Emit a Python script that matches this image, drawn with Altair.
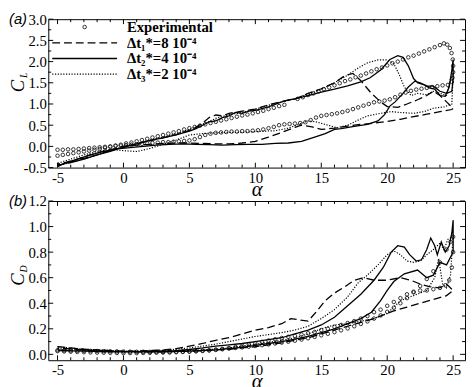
import altair as alt
import pandas as pd

SERIF = "Liberation Serif"

# ---------------- axis ticks ----------------
X_TICKS = [-5, 0, 5, 10, 15, 20, 25]
X_MINOR = [-4, -3, -2, -1, 1, 2, 3, 4, 6, 7, 8, 9, 11, 12, 13, 14, 16, 17, 18, 19, 21, 22, 23, 24]
CL_TICKS = [-0.5, 0.0, 0.5, 1.0, 1.5, 2.0, 2.5, 3.0]
CL_MINOR = [-0.25, 0.25, 0.75, 1.25, 1.75, 2.25, 2.75]
CD_TICKS = [0.0, 0.2, 0.4, 0.6, 0.8, 1.0, 1.2]
CD_MINOR = [0.1, 0.3, 0.5, 0.7, 0.9, 1.1]

LEGEND_LABELS = ["Experimental", "Δt₁*=8 10⁻⁴", "Δt₂*=4 10⁻⁴", "Δt₃*=2 10⁻⁴"]

# ---------------- (a) lift coefficient ----------------
EXP_CL_A = [-5.0, -4.6, -4.2, -3.8, -3.4, -3.0, -2.6, -2.2, -1.8, -1.4, -1.0, -0.6, -0.2, 0.2, 0.6, 1.0,
            1.4, 1.8, 2.2, 2.6, 3.0, 3.4, 3.8, 4.2, 4.6, 5.0, 5.4, 5.8, 6.2, 6.6, 7.0, 7.4, 7.8, 8.2,
            8.6, 9.0, 9.4, 9.8, 10.2, 10.6, 11.0, 11.4, 11.8, 12.2,
            13.2, 13.6, 14.0, 14.4, 14.8, 15.2, 15.6, 16.0, 16.4, 16.8, 17.2, 17.6, 18.0, 18.4, 18.8,
            19.2, 19.6, 20.0, 20.4, 20.8, 21.2, 21.6, 22.0, 22.4, 22.8, 23.2, 23.6, 24.0, 24.3,
            24.55, 24.75, 24.88, 24.97, 25.0, 25.0, 24.95, 24.9,
            24.6, 24.2, 23.8, 23.4, 23.0, 22.6, 22.2, 21.8, 21.4, 21.0, 20.6, 20.2, 19.8, 19.4, 19.0,
            18.6, 18.2, 17.8, 17.4, 17.0, 16.6, 16.2, 15.8, 15.4, 15.0, 14.6, 14.2, 13.8, 13.4, 13.0,
            12.6, 12.2, 11.8, 11.4, 11.0, 10.6, 10.2, 9.8, 9.4, 9.0, 8.6, 8.2, 7.8, 7.4, 7.0, 6.6,
            6.2, 5.8, 5.4, 5.0, 4.6, 4.2, 3.8, 3.4, 3.0, 2.6, 2.2, 1.8, 1.4, 1.0, 0.6, 0.2, -0.2,
            -0.6, -1.0, -1.4, -1.8, -2.2, -2.6, -3.0, -3.4, -3.8, -4.2, -4.6, -5.0]
EXP_CL_V = [-0.22, -0.20, -0.18, -0.16, -0.14, -0.12, -0.10, -0.08, -0.06, -0.03, -0.01, 0.02, 0.04, 0.07, 0.09, 0.12,
            0.15, 0.18, 0.21, 0.24, 0.27, 0.30, 0.33, 0.36, 0.40, 0.43, 0.46, 0.49, 0.52, 0.55, 0.58, 0.61, 0.64, 0.67,
            0.70, 0.73, 0.75, 0.78, 0.81, 0.84, 0.88, 0.91, 0.95, 0.98,
            1.12, 1.16, 1.21, 1.25, 1.30, 1.35, 1.39, 1.44, 1.49, 1.54, 1.58, 1.63, 1.67, 1.72, 1.77,
            1.82, 1.86, 1.91, 1.96, 2.00, 2.05, 2.10, 2.14, 2.19, 2.24, 2.29, 2.34, 2.39, 2.43,
            2.40, 2.32, 2.20, 2.05, 1.90, 1.75, 1.62, 1.52,
            1.45, 1.44, 1.42, 1.40, 1.38, 1.36, 1.34, 1.31, 1.27, 1.22, 1.16, 1.11, 1.08, 1.06, 1.04,
            1.00, 0.96, 0.92, 0.88, 0.84, 0.81, 0.78, 0.76, 0.74, 0.72, 0.68, 0.62, 0.57, 0.55, 0.54,
            0.53, 0.52, 0.50, 0.46, 0.43, 0.40, 0.38, 0.37, 0.36, 0.36, 0.35, 0.35, 0.34, 0.33, 0.32, 0.30,
            0.27, 0.22, 0.17, 0.14, 0.13, 0.12, 0.11, 0.10, 0.10, 0.09, 0.08, 0.07, 0.06, 0.05, 0.04, 0.03, 0.02,
            0.01, 0.00, -0.01, -0.02, -0.03, -0.04, -0.05, -0.06, -0.07, -0.07, -0.08, -0.08]

DT1_CL_A = [-5, -4, -3, -2, -1, 0, 1, 2, 3, 4, 5, 5.5, 6, 6.5, 7, 7.5, 8, 9, 10, 11, 12, 13, 14, 15, 16,
            16.8, 17.4, 18, 18.8, 19.5, 20, 20.8, 21.5, 22.3, 23, 23.5, 24, 24.5, 25,
            24.9, 24, 23, 22, 21, 20, 19, 18, 17, 16, 15, 14.3, 13.5, 13, 12, 11, 10, 9, 8, 7, 6, 5,
            4, 3, 2, 1, 0, -1, -2, -3, -4, -5]
DT1_CL_V = [-0.45, -0.37, -0.28, -0.2, -0.1, -0.02, 0.06, 0.13, 0.2, 0.28, 0.38, 0.45, 0.55, 0.68, 0.74, 0.72,
            0.78, 0.83, 0.88, 0.98, 1.06, 1.12, 1.25, 1.36, 1.5,
            1.67, 1.72, 1.55, 1.25, 1.05, 0.94, 0.92, 1.0, 1.1, 1.2, 1.3, 1.2, 1.05, 0.9,
            0.87, 0.82, 0.76, 0.7, 0.64, 0.59, 0.55, 0.52, 0.48, 0.43, 0.4, 0.46, 0.5, 0.45, 0.33, 0.22,
            0.12, 0.08, 0.06, 0.06, 0.07, 0.08, 0.08, 0.07, 0.05, 0.03, 0.0, -0.08, -0.15, -0.25, -0.35, -0.42]

DT2_CL_A = [-5, -4.5, -4, -3, -2, -1, 0, 1, 2, 3, 4, 5, 5.5, 6, 6.5, 7, 7.5, 8, 8.5, 9, 9.5, 10, 11, 12,
            12.5, 13, 14, 15, 16, 17, 18, 18.7, 19.5, 20.2, 20.8, 21.2, 21.6, 22, 22.3, 22.8, 23.2,
            23.6, 24, 24.4, 24.7, 24.9, 25, 25, 24.9,
            24.5, 24, 23.5, 23, 22.5, 22.1, 21.6, 21.2, 20.6, 20.2, 19.8, 19.3, 18.5, 17.5, 16.5, 16,
            15.3, 14.5, 13.5, 12.5, 11.5, 10.5, 9.5, 8.5, 7.5, 6.5, 5.5, 4.5, 3.5, 2.5, 1.5, 0.5,
            -0.5, -1.5, -2.5, -3.5, -4.5, -5]
DT2_CL_V = [-0.48, -0.4, -0.38, -0.3, -0.2, -0.12, -0.02, 0.06, 0.14, 0.2, 0.27, 0.36, 0.42, 0.5, 0.58, 0.6,
            0.68, 0.72, 0.8, 0.78, 0.83, 0.85, 0.93, 1.05, 1.1, 1.12, 1.2, 1.28, 1.35, 1.43, 1.52, 1.62,
            1.8, 2.05, 2.14, 2.1, 1.9, 1.6, 1.5, 1.45, 1.38, 1.35, 1.2, 1.18, 1.4, 1.8, 2.05, 1.6, 1.3,
            1.25, 1.3, 1.42, 1.43, 1.5, 1.54, 1.4, 1.25, 1.05, 0.95, 0.75, 0.6, 0.52, 0.47, 0.42, 0.4,
            0.3, 0.22, 0.12, 0.08, 0.07, 0.05, 0.05, 0.04, 0.03, 0.04, 0.05, 0.06, 0.05, 0.03, 0.0,
            -0.03, -0.06, -0.12, -0.2, -0.3, -0.4, -0.47]

DT3_CL_A = [-5, -4, -3, -2, -1, 0, 1, 2, 3, 4, 5, 6, 7, 8, 9, 10, 11, 12, 13, 14, 15, 16, 17, 17.8,
            18.5, 19.3, 20, 20.5, 20.9, 21.3, 21.8, 22.3, 23, 23.5, 24, 24.5, 24.8, 25,
            24.9, 24.3, 23.5, 22.8, 22, 21, 20.3, 19.5, 18.5, 17.8, 17, 16.2, 15.5, 14.6, 14, 13.3,
            12.5, 11.5, 10, 9, 8, 7, 6, 5, 4, 3, 2, 1, 0, -1, -2, -3, -4, -5]
DT3_CL_V = [-0.45, -0.38, -0.3, -0.2, -0.1, 0.0, 0.07, 0.15, 0.22, 0.3, 0.4, 0.52, 0.66, 0.75, 0.8, 0.88,
            0.97, 1.05, 1.12, 1.22, 1.35, 1.5, 1.68, 1.85, 1.97, 2.04, 2.04, 1.95, 1.7, 1.4, 1.2,
            1.25, 1.22, 1.3, 1.25, 1.2, 1.6, 1.7,
            1.0, 0.93, 0.9, 0.82, 0.78, 0.8, 0.82, 0.78, 0.72, 0.62, 0.5, 0.44, 0.5, 0.58, 0.6, 0.52,
            0.43, 0.37, 0.35, 0.33, 0.33, 0.32, 0.3, 0.27, 0.15, 0.05, -0.05, -0.12, -0.1, -0.07,
            -0.12, -0.2, -0.3, -0.4]

# ---------------- (b) drag coefficient ----------------
EXP_CD_A = [-5.0, -4.5, -4.0, -3.5, -3.0, -2.5, -2.0, -1.5, -1.0, -0.5, 0.0, 0.5, 1.0, 1.5, 2.0, 2.5,
            3.0, 3.5, 4.0, 4.5, 5.0, 5.5, 6.0, 6.5, 7.0, 7.5, 8.0, 8.5, 9.0, 9.5, 10.0, 10.5, 11.0,
            11.5, 12.0, 12.5, 13.0, 13.5, 14.0, 14.5, 15.0, 15.5, 16.0, 16.5, 17.0, 17.5, 18.0, 18.5,
            19.0, 19.5, 20.0, 20.5, 21.0, 21.5, 22.0, 22.5, 23.0, 23.5, 24.0, 24.5, 24.8, 25.0,
            25.0, 24.9, 24.7, 24.4, 24.0, 23.5, 23.0, 22.5, 22.0, 21.5, 21.0, 20.5, 20.0, 19.5, 19.0,
            18.5, 18.0, 17.5, 17.0, 16.5, 16.0, 15.5, 15.0, 14.5, 14.0, 13.5, 13.0, 12.5, 12.0, 11.5,
            11.0, 10.5, 10.0, 9.5, 9.0, 8.5, 8.0, 7.5, 7.0, 6.5, 6.0, 5.5, 5.0, 4.5, 4.0, 3.5, 3.0,
            2.5, 2.0, 1.5, 1.0, 0.5, 0.0, -0.5, -1.0, -1.5, -2.0, -2.5, -3.0, -3.5, -4.0, -4.5, -5.0]
EXP_CD_V = [0.025, 0.023, 0.021, 0.019, 0.017, 0.015, 0.014, 0.013, 0.012, 0.011, 0.010, 0.010, 0.010,
            0.011, 0.012, 0.013, 0.014, 0.015, 0.017, 0.019, 0.021, 0.024, 0.027, 0.031, 0.035, 0.040,
            0.045, 0.050, 0.055, 0.060, 0.066, 0.072, 0.078, 0.085, 0.092, 0.099, 0.107, 0.116, 0.126,
            0.137, 0.149, 0.161, 0.174, 0.188, 0.203, 0.220, 0.238, 0.258, 0.280, 0.305, 0.333, 0.365,
            0.400, 0.440, 0.485, 0.535, 0.590, 0.650, 0.720, 0.820, 0.880, 0.920,
            0.80, 0.68, 0.58, 0.54, 0.52, 0.51, 0.50, 0.50, 0.49, 0.47, 0.44, 0.41, 0.38, 0.35, 0.33,
            0.30, 0.28, 0.26, 0.245, 0.23, 0.215, 0.20, 0.19, 0.175, 0.165, 0.155, 0.145, 0.137, 0.128,
            0.118, 0.108, 0.098, 0.088, 0.078, 0.068, 0.058, 0.050, 0.043, 0.037, 0.032, 0.028, 0.025,
            0.023, 0.021, 0.020, 0.019, 0.019, 0.019, 0.019, 0.020, 0.020, 0.021, 0.022, 0.023, 0.024,
            0.025, 0.026, 0.027, 0.028, 0.029, 0.030, 0.031, 0.032]

DT1_CD_A = [-5, -4, -3, -2, -1, 0, 1, 2, 3, 4, 5, 6, 7, 8, 9, 10, 11, 12, 12.7, 13.3, 14, 14.6, 15.3,
            16, 16.8, 17.5, 18.2, 19, 20, 21, 21.8, 22.5, 23.2, 24, 24.5, 25,
            24.5, 23.5, 22.5, 21.5, 20.5, 20, 19, 18, 17, 16, 15, 14, 13, 12, 11, 10, 9, 8, 7, 6, 5,
            3, 1, -1, -3, -5]
DT1_CD_V = [0.06, 0.05, 0.04, 0.035, 0.03, 0.025, 0.025, 0.03, 0.035, 0.045, 0.065, 0.085, 0.11, 0.13,
            0.16, 0.19, 0.21, 0.24, 0.28, 0.27, 0.26, 0.33, 0.42, 0.48, 0.53, 0.58, 0.6, 0.58, 0.58,
            0.6, 0.58, 0.55, 0.53, 0.52, 0.55, 0.5,
            0.46, 0.43, 0.4, 0.37, 0.34, 0.32, 0.28, 0.25, 0.22, 0.19, 0.16, 0.13, 0.11, 0.09, 0.075,
            0.06, 0.05, 0.04, 0.035, 0.03, 0.025, 0.02, 0.02, 0.025, 0.035, 0.05]

DT2_CD_A = [-5, -4, -3, -2, -1, 0, 1, 2, 3, 4, 5, 6, 7, 8, 9, 10, 11, 12, 13, 14, 15, 16, 17, 18, 19,
            19.7, 20.3, 20.8, 21.3, 21.7, 22.2, 22.6, 23, 23.3, 23.6, 23.8, 24.1, 24.4, 24.7, 24.9, 25,
            25, 24.5, 24, 23.5, 23, 22.3, 21.3, 20.5, 20, 19.5, 18.8, 18, 17, 16, 15, 14, 13, 12, 11,
            10, 9, 8, 7, 6, 5, 3, 1, -1, -3, -5]
DT2_CD_V = [0.035, 0.03, 0.028, 0.025, 0.022, 0.02, 0.02, 0.022, 0.025, 0.03, 0.038, 0.05, 0.065, 0.075,
            0.085, 0.1, 0.115, 0.13, 0.16, 0.19, 0.23, 0.29, 0.38, 0.47, 0.58, 0.68, 0.8, 0.85, 0.84,
            0.78, 0.73, 0.74, 0.82, 0.91, 0.85, 0.78, 0.88, 0.8, 0.85, 0.95, 1.05,
            0.8, 0.7, 0.72, 0.62, 0.6, 0.66, 0.63, 0.57, 0.5, 0.42, 0.33, 0.28, 0.24, 0.2, 0.17, 0.14,
            0.12, 0.1, 0.085, 0.07, 0.055, 0.045, 0.035, 0.03, 0.025, 0.02, 0.02, 0.02, 0.025, 0.03]

DT3_CD_A = [-5, -4, -3, -2, -1, 0, 1, 2, 3, 4, 5, 6, 7, 8, 9, 10, 11, 12, 13, 14, 15, 16, 17, 17.8,
            18.5, 19.3, 20, 20.5, 21, 21.5, 22, 22.5, 23, 23.5, 24, 24.3, 24.6, 25,
            24.8, 24.5, 24.2, 23.9, 23.6, 23, 22, 21, 20, 19, 18, 17, 16, 15, 14, 13, 12, 11, 10, 9,
            8, 7, 6, 5, 3, 1, -1, -3, -5]
DT3_CD_V = [0.06, 0.05, 0.04, 0.035, 0.03, 0.025, 0.025, 0.028, 0.032, 0.04, 0.05, 0.065, 0.08, 0.1,
            0.12, 0.14, 0.155, 0.17, 0.19, 0.22, 0.28, 0.35, 0.45, 0.56, 0.62, 0.7, 0.78, 0.81, 0.78,
            0.73, 0.72, 0.73, 0.78, 0.82, 0.87, 0.82, 0.9, 0.92,
            0.62, 0.52, 0.55, 0.75, 0.6, 0.5, 0.46, 0.42, 0.32, 0.28, 0.26, 0.24, 0.23, 0.2, 0.16,
            0.13, 0.11, 0.095, 0.08, 0.065, 0.05, 0.04, 0.035, 0.03, 0.025, 0.022, 0.025, 0.035, 0.045]

# ---------------- layout ----------------
W = 424
H1 = 151
H2 = 162
xs = alt.Scale(domain=[-5.7, 25.9], nice=False, zero=False)
ys_cl = alt.Scale(domain=[-0.5, 3.0], nice=False, zero=False)
ys_cd = alt.Scale(domain=[-0.046, 1.2], nice=False, zero=False)

DASH = [8, 4]
DOT = [1.2, 1.6]
CIRC = "#1e1e1e"

X_AXIS = alt.Axis(values=X_TICKS, ticks=False, domain=False, grid=False,
                  labelFont=SERIF, labelFontSize=15, labelColor="black", labelPadding=3,
                  labelExpr="(datum.value < 0 ? '-' : '') + abs(datum.value)",
                  labelFlush=False, labelOverlap=False,
                  title="α", titleFont=SERIF, titleFontStyle="italic", titleFontWeight="normal",
                  titleFontSize=21, titleColor="black", titleBaseline="alphabetic", titleY=28)


def y_axis(vals):
    return alt.Axis(values=vals, ticks=False, domain=False, grid=False,
                    labelFont=SERIF, labelFontSize=15, labelColor="black", labelPadding=2,
                    labelExpr="(datum.value < 0 ? '-' : '') + format(abs(datum.value), '.1f')",
                    labelFlush=False, labelOverlap=False, title=None)


def line_layer(a, v, ys, ya, dash, width):
    df = pd.DataFrame({"a": a, "v": v, "i": list(range(len(a)))})
    kw = {"strokeDash": dash} if dash else {}
    return alt.Chart(df).mark_line(color="black", strokeWidth=width, **kw).encode(
        x=alt.X("a:Q", scale=xs, axis=X_AXIS),
        y=alt.Y("v:Q", scale=ys, axis=ya),
        order="i:Q")


def tick_layers(H, ys, ya, yt, ym):
    layers = []
    for vals, ln in ((X_TICKS, 5), (X_MINOR, 3)):
        df = pd.DataFrame({"a": vals})
        base = alt.Chart(df).mark_rule(color="black", strokeWidth=1)
        layers.append(base.encode(x=alt.X("a:Q", scale=xs, axis=X_AXIS), y=alt.value(0), y2=alt.value(ln)))
        layers.append(base.encode(x=alt.X("a:Q", scale=xs, axis=X_AXIS), y=alt.value(H), y2=alt.value(H - ln)))
    for vals, ln in ((yt, 5), (ym, 3)):
        df = pd.DataFrame({"v": vals})
        base = alt.Chart(df).mark_rule(color="black", strokeWidth=1)
        layers.append(base.encode(y=alt.Y("v:Q", scale=ys, axis=ya), x=alt.value(0), x2=alt.value(ln)))
        layers.append(base.encode(y=alt.Y("v:Q", scale=ys, axis=ya), x=alt.value(W), x2=alt.value(W - ln)))
    return layers


ONE = pd.DataFrame({"k": [0]})


def text_layer(txt, x, y, **kw):
    return alt.Chart(ONE).mark_text(**kw).encode(x=alt.value(x), y=alt.value(y), text=alt.value(txt))


def panel(H, ys, yt, ym, exp_a, exp_v, series, tag, sub, cy, legend):
    ya = y_axis(yt)
    exp_df = pd.DataFrame({"a": exp_a, "v": exp_v})
    pts = alt.Chart(exp_df).mark_point(shape="circle", filled=False, size=13, strokeWidth=0.9,
                                       color=CIRC, opacity=1).encode(
        x=alt.X("a:Q", scale=xs, axis=X_AXIS),
        y=alt.Y("v:Q", scale=ys, axis=ya))
    layers = [pts]
    (a1, v1), (a2, v2), (a3, v3) = series
    layers.append(line_layer(a3, v3, ys, ya, DOT, 1.2))
    layers.append(line_layer(a1, v1, ys, ya, DASH, 1.3))
    layers.append(line_layer(a2, v2, ys, ya, None, 1.3))
    layers += tick_layers(H, ys, ya, yt, ym)
    layers.append(text_layer(tag, -40, 0, align="left", baseline="middle", font="Liberation Sans",
                             fontStyle="italic", fontSize=15, color="black"))
    layers.append(text_layer("C", -31, cy, angle=270, align="center", baseline="middle", font=SERIF,
                             fontStyle="italic", fontSize=19, color="black"))
    layers.append(text_layer(sub, -25, cy - 11, angle=270, align="center", baseline="middle", font=SERIF,
                             fontStyle="italic", fontSize=10, color="black"))
    if legend:
        layers.append(alt.Chart(ONE).mark_point(shape="circle", filled=False, size=13, strokeWidth=0.9,
                                                color=CIRC, opacity=1).encode(x=alt.value(37), y=alt.value(8)))
        rows = [(DASH, 24), (None, 40), (DOT, 56)]
        for dash, yy in rows:
            kw = {"strokeDash": dash} if dash else {}
            layers.append(alt.Chart(ONE).mark_rule(color="black", strokeWidth=1.4 if dash is None else 1.3, **kw)
                          .encode(x=alt.value(4), x2=alt.value(70), y=alt.value(yy)))
        for lab, yy in zip(LEGEND_LABELS, [8, 24, 40, 56]):
            layers.append(text_layer(lab, 80, yy, align="left", baseline="middle", font=SERIF,
                                     fontWeight="bold", fontSize=15, color="black"))
    return alt.layer(*layers).properties(width=W, height=H)


top = panel(H1, ys_cl, CL_TICKS, CL_MINOR, EXP_CL_A, EXP_CL_V,
            [(DT1_CL_A, DT1_CL_V), (DT2_CL_A, DT2_CL_V), (DT3_CL_A, DT3_CL_V)],
            "(a)", "L", 68, True)
bottom = panel(H2, ys_cd, CD_TICKS, CD_MINOR, EXP_CD_A, EXP_CD_V,
               [(DT1_CD_A, DT1_CD_V), (DT2_CD_A, DT2_CD_V), (DT3_CD_A, DT3_CD_V)],
               "(b)", "D", 80, False)

chart = alt.vconcat(top, bottom, spacing=34, bounds="flush").properties(
    padding={"left": 0, "top": 0, "right": 0, "bottom": 0},
    background="white",
).configure_view(stroke="black", strokeWidth=1)

chart.save("out.html", embed_options={"renderer": "svg", "actions": False})
